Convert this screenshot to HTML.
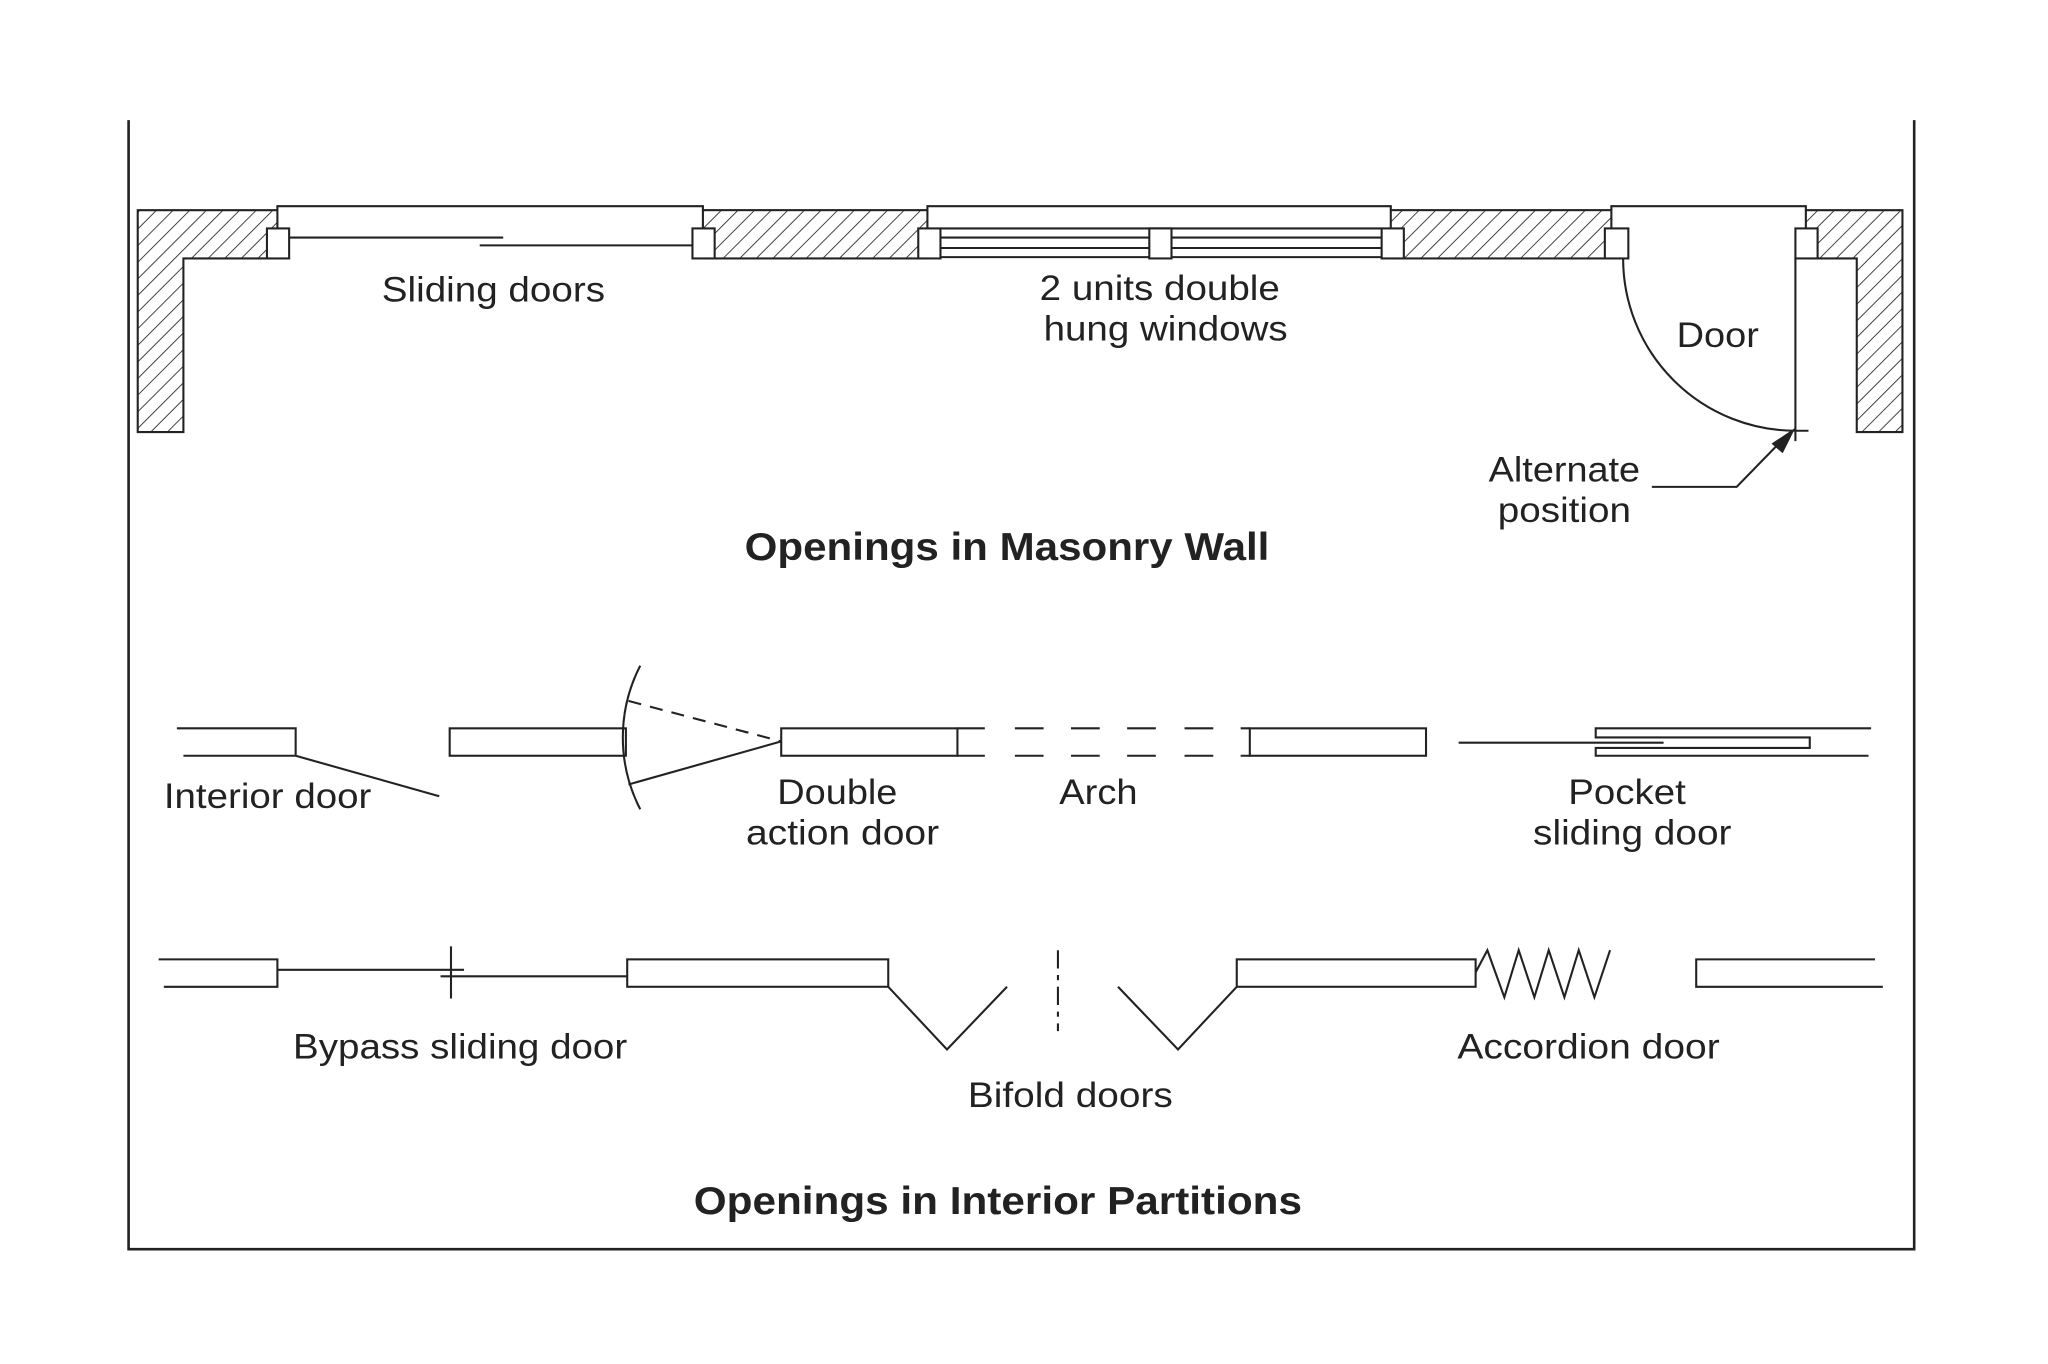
<!DOCTYPE html>
<html><head><style>html,body{margin:0;padding:0;background:#fff}svg{display:block}</style></head><body>
<svg width="2048" height="1364" viewBox="0 0 1568 1045" xmlns="http://www.w3.org/2000/svg" font-family="Liberation Sans, sans-serif" fill="none" stroke="#222" stroke-width="1.6">
<defs><pattern id="h" width="9" height="9" patternUnits="userSpaceOnUse" patternTransform="rotate(45)"><line x1="0" y1="0" x2="0" y2="9" stroke="#222" stroke-width="1.3"/></pattern></defs>
<path d="M98 92V957H1466V92" stroke-width="2"/>
<path d="M105 161H212V198H140V331H105Z" fill="url(#h)"/>
<rect x="538" y="161" width="172" height="37" fill="url(#h)"/>
<rect x="1065" y="161" width="169" height="37" fill="url(#h)"/>
<path d="M1383 161H1457V331H1422V198H1383Z" fill="url(#h)"/>
<path d="M212 161V158H538V161"/>
<rect x="204" y="175" width="17" height="23" fill="#fff"/>
<rect x="530" y="175" width="17" height="23" fill="#fff"/>
<path d="M221 182H385M367 188H530"/>
<path d="M710 161V158H1065V161"/>
<path d="M720 175H1058M720 182H1058M720 190H1058M720 197H1058"/>
<rect x="703" y="175" width="17" height="23" fill="#fff"/>
<rect x="880" y="175" width="17" height="23" fill="#fff"/>
<rect x="1058" y="175" width="17" height="23" fill="#fff"/>
<path d="M1234 161V158H1383V161"/>
<rect x="1229" y="175" width="18" height="23" fill="#fff"/>
<rect x="1375" y="175" width="17" height="23" fill="#fff"/>
<path d="M1375 198V338M1243 198A132 132 0 0 0 1375 330H1385"/>
<path d="M1265 373H1330L1368 334"/>
<path d="M1373 330L1358 340L1365 346Z" fill="#222"/>
<g fill="#222" stroke="none" font-size="27" lengthAdjust="spacingAndGlyphs">
<text x="292" y="231" textLength="171" lengthAdjust="spacingAndGlyphs">Sliding doors</text>
<text x="796" y="230" textLength="184" lengthAdjust="spacingAndGlyphs">2 units double</text>
<text x="799" y="261" textLength="187" lengthAdjust="spacingAndGlyphs">hung windows</text>
<text x="1284" y="266" textLength="63" lengthAdjust="spacingAndGlyphs">Door</text>
<text x="1140" y="369" textLength="116" lengthAdjust="spacingAndGlyphs">Alternate</text>
<text x="1147" y="400" textLength="102" lengthAdjust="spacingAndGlyphs">position</text>
<text x="570" y="429" font-weight="bold" font-size="30" textLength="402" lengthAdjust="spacingAndGlyphs">Openings in Masonry Wall</text>
<text x="125" y="619" textLength="159" lengthAdjust="spacingAndGlyphs">Interior door</text>
<text x="595" y="616" textLength="92" lengthAdjust="spacingAndGlyphs">Double</text>
<text x="571" y="647" textLength="148" lengthAdjust="spacingAndGlyphs">action door</text>
<text x="811" y="616" textLength="60" lengthAdjust="spacingAndGlyphs">Arch</text>
<text x="1201" y="616" textLength="90" lengthAdjust="spacingAndGlyphs">Pocket</text>
<text x="1174" y="647" textLength="152" lengthAdjust="spacingAndGlyphs">sliding door</text>
<text x="224" y="811" textLength="256" lengthAdjust="spacingAndGlyphs">Bypass sliding door</text>
<text x="741" y="848" textLength="157" lengthAdjust="spacingAndGlyphs">Bifold doors</text>
<text x="1116" y="811" textLength="201" lengthAdjust="spacingAndGlyphs">Accordion door</text>
<text x="531" y="930" font-weight="bold" font-size="30" textLength="466" lengthAdjust="spacingAndGlyphs">Openings in Interior Partitions</text>
</g>
<path d="M135 558H226V579H140M226 579L336 610"/>
<rect x="344" y="558" width="135" height="21"/>
<path d="M490 510A120 120 0 0 0 490 620"/>
<path d="M481 537L598 568" stroke-dasharray="10 7"/>
<path d="M481 601L598 568"/>
<rect x="598" y="558" width="135" height="21"/>
<path d="M733 558H754M733 579H754M777 558H799M777 579H799M820 558H842M820 579H842M863 558H885M863 579H885M907 558H929M907 579H929M950 558H957M950 579H957"/>
<rect x="957" y="558" width="135" height="21"/>
<path d="M1117 569H1274M1433 558H1222V565H1386V573H1222V579H1431"/>
<path d="M121 735H212V756H125M212 743H355M337 748H480M345 725V765" />
<rect x="480" y="735" width="200" height="21"/>
<path d="M680 756L725 804L771 756M856 756L902 804L947 756"/>
<path d="M810 728V790" stroke-dasharray="14 5 4 5"/>
<rect x="947" y="735" width="183" height="21"/>
<path d="M1130 745L1139 728L1152 764L1163 728L1175 764L1186 728L1198 764L1209 728L1221 764L1233 728"/>
<path d="M1436 735H1299V756H1442"/>
</svg>
</body></html>
